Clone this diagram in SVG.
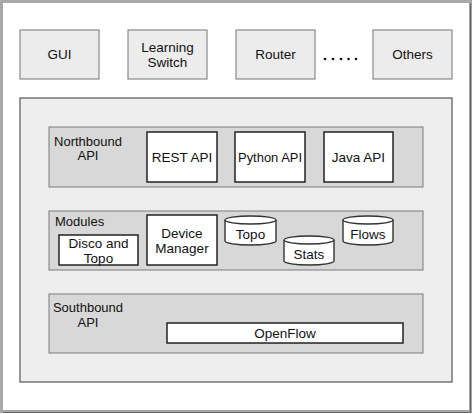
<svg xmlns="http://www.w3.org/2000/svg" width="474" height="414" viewBox="0 0 474 414">
<style>
text{font-family:"Liberation Sans",Arial,sans-serif;fill:#111;font-size:13.5px;text-anchor:middle}
.app{fill:#ececec;stroke:#8a8a8a;stroke-width:1.2}
.layer{fill:#d8d8d8;stroke:#7a7a7a;stroke-width:1}
.wbox{fill:#fff;stroke:#222;stroke-width:1.5}
.cyl{fill:#fff;stroke:#333;stroke-width:1.4}
.lbl{font-size:13px}
</style>
<rect x="0" y="0" width="474" height="414" fill="#fff"/>
<rect x="1.5" y="1.5" width="469" height="410" fill="#fff" stroke="#a8a8a8" stroke-width="3"/>
<path d="M470.5 3 V412.5 H3" fill="none" stroke="#666" stroke-width="1.2"/>

<g id="gui"><rect class="app" x="20" y="30" width="79" height="49"/><text x="59.5" y="59">GUI</text></g>
<g id="learning-switch"><rect class="app" x="128" y="30" width="79" height="49"/><text x="167.5" y="52">Learning</text><text x="167.5" y="67">Switch</text></g>
<g id="router"><rect class="app" x="236" y="30" width="79" height="49"/><text x="275.5" y="59">Router</text></g>
<g id="dots" fill="#111"><circle cx="325" cy="59" r="1.3"/><circle cx="333" cy="59" r="1.3"/><circle cx="341" cy="59" r="1.3"/><circle cx="348.5" cy="59" r="1.3"/><circle cx="356" cy="59" r="1.3"/></g>
<g id="others"><rect class="app" x="373" y="30" width="79" height="49"/><text x="412.5" y="59">Others</text></g>

<g id="controller"><rect x="20" y="98" width="432" height="284" fill="#eeeeee" stroke="#555" stroke-width="1.2"/></g>

<g id="northbound">
<rect class="layer" x="49" y="127" width="374" height="60"/>
<text class="lbl" x="88" y="145.5">Northbound</text><text class="lbl" x="88" y="159.5">API</text>
</g>
<g id="rest-api"><rect class="wbox" x="147" y="132" width="70" height="50"/><text x="182" y="161.5">REST API</text></g>
<g id="python-api"><rect class="wbox" x="235" y="132" width="70" height="50"/><text x="270" y="161.5" textLength="64" lengthAdjust="spacingAndGlyphs">Python API</text></g>
<g id="java-api"><rect class="wbox" x="324" y="132" width="69" height="50"/><text x="358.5" y="161.5">Java API</text></g>

<g id="modules">
<rect class="layer" x="49" y="211" width="374" height="59"/>
<text class="lbl" x="55" y="225.5" style="text-anchor:start">Modules</text>
</g>
<g id="disco-topo"><rect class="wbox" x="59" y="235" width="79" height="30"/><text x="98.5" y="248">Disco and</text><text x="98.5" y="262.5">Topo</text></g>
<g id="device-manager"><rect class="wbox" x="147" y="215" width="70" height="50"/><text x="182" y="238">Device</text><text x="182" y="253">Manager</text></g>
<g id="topo"><path class="cyl" d="M225 220 V241 A25.5 4 0 0 0 276 241 V220 A25.5 4 0 0 0 225 220 Z"/><path class="cyl" fill="none" d="M225 220 A25.5 4 0 0 0 276 220"/><text x="250.5" y="239">Topo</text></g>
<g id="stats"><path class="cyl" d="M284 240 V261 A25 4 0 0 0 334 261 V240 A25 4 0 0 0 284 240 Z"/><path class="cyl" fill="none" d="M284 240 A25 4 0 0 0 334 240"/><text x="309" y="259">Stats</text></g>
<g id="flows"><path class="cyl" d="M343 220 V241 A25 4 0 0 0 393 241 V220 A25 4 0 0 0 343 220 Z"/><path class="cyl" fill="none" d="M343 220 A25 4 0 0 0 393 220"/><text x="368" y="239">Flows</text></g>

<g id="southbound">
<rect class="layer" x="49" y="294" width="374" height="59"/>
<text class="lbl" x="88" y="311.5">Southbound</text><text class="lbl" x="88" y="326.5">API</text>
</g>
<g id="openflow"><rect class="wbox" x="167" y="323" width="236" height="20"/><text x="285" y="338">OpenFlow</text></g>

<g id="connectors"></g>
</svg>
